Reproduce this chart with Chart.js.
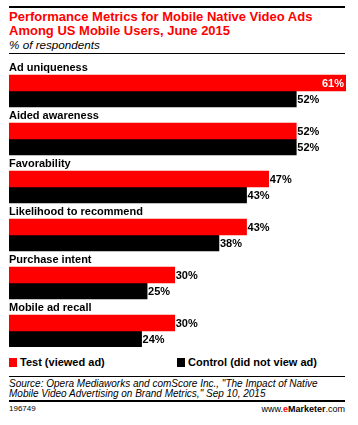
<!DOCTYPE html>
<html lang="en">
<head>
  <meta charset="UTF-8" />
  <title>Performance Metrics for Mobile Native Video Ads</title>
  <script src="https://cdn.jsdelivr.net/npm/chart.js"></script>
  <style>
    body { margin: 0; background: #fff; width: 358px; height: 425px; position: relative; overflow: hidden; }
    * { font-family: 'Liberation Sans', Arial, sans-serif; }
    .abs { position: absolute; }
    .rule { position: absolute; left: 9px; width: 336px; background: #000; }
    #title { left: 9px; top: 10px; font-size: 13px; line-height: 14px; font-weight: bold; color: #f00; }
    #subtitle { left: 9px; top: 38px; font-size: 11.7px; line-height: 13px; font-style: italic; color: #000; }
    #chartBox { left: 0; top: 59px; width: 358px; height: 288px; }
    .legend { top: 356px; font-size: 11px; line-height: 13px; font-weight: bold; }
    .legend span.sw { display: inline-block; width: 8px; height: 9px; margin-right: 3px; vertical-align: -1px; }
    #source { left: 9px; top: 379px; font-size: 10px; line-height: 10px; font-style: italic; }
    .foot { top: 404px; font-size: 8px; line-height: 10px; }
  </style>
</head>
<body>
  <div class="rule" style="top:6px;height:2px"></div>
  <div id="title" class="abs">Performance Metrics for Mobile Native Video Ads<br>Among US Mobile Users, June 2015</div>
  <div id="subtitle" class="abs">% of respondents</div>
  <div class="rule" style="top:53px;height:1px"></div>

  <div id="chartBox" class="abs"><canvas id="chart"></canvas></div>

  <div class="abs legend" style="left:9px"><span class="sw" style="background:#f00"></span>Test (viewed ad)</div>
  <div class="abs legend" style="left:177px"><span class="sw" style="background:#000"></span>Control (did not view ad)</div>

  <div class="rule" style="top:376px;height:1px"></div>
  <div id="source" class="abs">Source: Opera Mediaworks and comScore Inc., "The Impact of Native<br>Mobile Video Advertising on Brand Metrics," Sep 10, 2015</div>
  <div class="rule" style="top:400px;height:2px"></div>
  <div class="abs foot" style="left:9px">196749</div>
  <div class="abs foot" style="right:13px;font-size:9px">www.<b style="color:#f00">e</b><b>Marketer</b>.com</div>

  <script>
    const categories = ['Ad uniqueness', 'Aided awareness', 'Favorability', 'Likelihood to recommend', 'Purchase intent', 'Mobile ad recall'];
    const testValues = [61, 52, 47, 43, 30, 30];
    const controlValues = [52, 52, 43, 38, 25, 24];
    const seriesNames = ['Test (viewed ad)', 'Control (did not view ad)'];

    // draws category names above each pair and the % labels beside each bar
    const labelPlugin = {
      id: 'labels',
      afterDatasetsDraw(chart) {
        const ctx = chart.ctx;
        ctx.save();
        ctx.font = "bold 11px 'Liberation Sans', Arial, sans-serif";
        const testMeta = chart.getDatasetMeta(1);
        testMeta.data.forEach((bar, i) => {
          ctx.fillStyle = '#000';
          ctx.textAlign = 'left';
          ctx.textBaseline = 'alphabetic';
          ctx.fillText(categories[i], chart.chartArea.left, bar.y - bar.height / 2 - 4);
        });
        [1, 2].forEach(di => {
          const meta = chart.getDatasetMeta(di);
          const values = chart.data.datasets[di].data;
          meta.data.forEach((bar, i) => {
            const txt = values[i] + '%';
            const w = ctx.measureText(txt).width;
            ctx.textBaseline = 'middle';
            if (bar.x + 2 + w > chart.width) {
              ctx.fillStyle = '#fff';
              ctx.textAlign = 'right';
              ctx.fillText(txt, bar.x - 2, bar.y + 0.5);
            } else {
              ctx.fillStyle = '#000';
              ctx.textAlign = 'left';
              ctx.fillText(txt, bar.x + 1, bar.y + 0.5);
            }
          });
        });
        ctx.restore();
      }
    };

    new Chart(document.getElementById('chart'), {
      type: 'bar',
      data: {
        labels: categories,
        datasets: [
          { label: 'spacer', data: categories.map(() => null), backgroundColor: 'rgba(0,0,0,0)' },
          { label: seriesNames[0], data: testValues, backgroundColor: '#ff0000' },
          { label: seriesNames[1], data: controlValues, backgroundColor: '#000000' }
        ]
      },
      options: {
        indexAxis: 'y',
        responsive: true,
        maintainAspectRatio: false,
        animation: false,
        layout: { padding: { left: 9, right: 12, top: 0, bottom: 0 } },
        datasets: { bar: { barPercentage: 1, categoryPercentage: 1, borderWidth: 0 } },
        scales: {
          x: { display: false, min: 0, max: 61 },
          y: { display: false }
        },
        plugins: {
          legend: { display: false },
          tooltip: { enabled: false }
        }
      },
      plugins: [labelPlugin]
    });
  </script>
</body>
</html>
